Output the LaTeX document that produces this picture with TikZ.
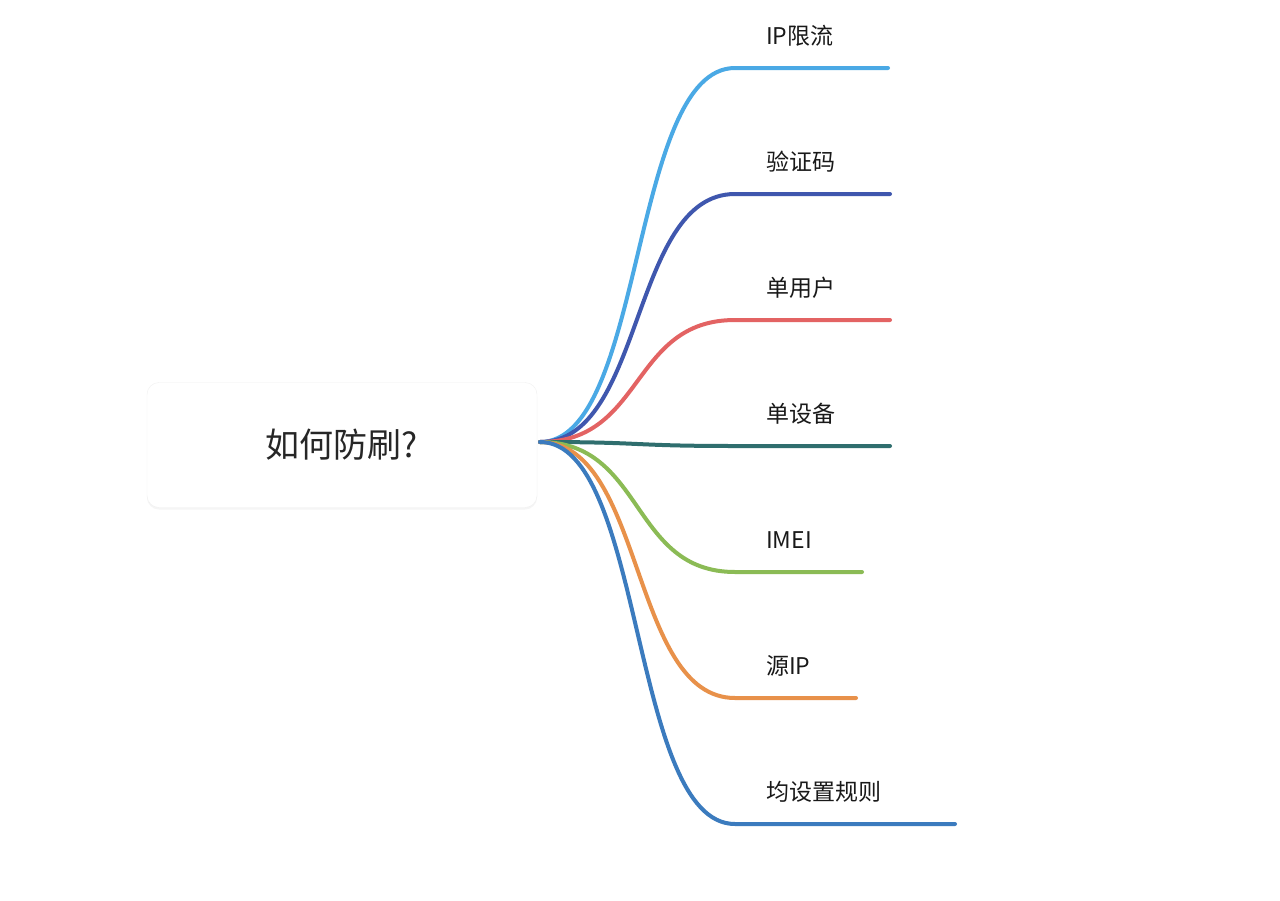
\documentclass[tikz,border=0pt]{standalone}
\usepackage{fontspec}
\setmainfont{Noto Sans CJK SC}
\usetikzlibrary{shadows}
\definecolor{c1}{HTML}{4AA9E5}
\definecolor{c2}{HTML}{3F57AE}
\definecolor{c3}{HTML}{E36363}
\definecolor{c4}{HTML}{2F6E6E}
\definecolor{c5}{HTML}{8BBB55}
\definecolor{c6}{HTML}{E8914A}
\definecolor{c7}{HTML}{3B7BBE}
\begin{document}
\begin{tikzpicture}[x=1pt,y=-1pt,
  br/.style={line width=4pt,line cap=round},
  lbl/.style={anchor=west,font=\fontsize{23}{26}\selectfont,text=black!90,inner sep=0pt}]
\useasboundingbox[fill=white] (0,0) rectangle (1280,900);
\node[draw=black!6,fill=white,rounded corners=12pt,minimum width=390pt,minimum height=125pt,
  drop shadow={opacity=0.08,shadow xshift=0pt,shadow yshift=-2pt},
  font=\fontsize{34}{40}\selectfont,text=black!85] (root) at (342,445) {如何防刷?};
\coordinate (o) at (540,442);
\foreach \n/\y/\e/\c/\t in {1/68/888/c1/IP限流,2/194/890/c2/验证码,3/320/890/c3/单用户,4/446/890/c4/单设备,5/572/862/c5/IMEI,6/698/856/c6/源IP,7/824/955/c7/均设置规则}{
  \coordinate (s\n) at (735,\y);
  \coordinate (e\n) at (\e,\y);
  \draw[br,\c] (o) .. controls (645,442) and (630,\y) .. (s\n) -- (e\n);
  \node[lbl] (l\n) at (766,\y-32) {\t};
}
\end{tikzpicture}
\end{document}
